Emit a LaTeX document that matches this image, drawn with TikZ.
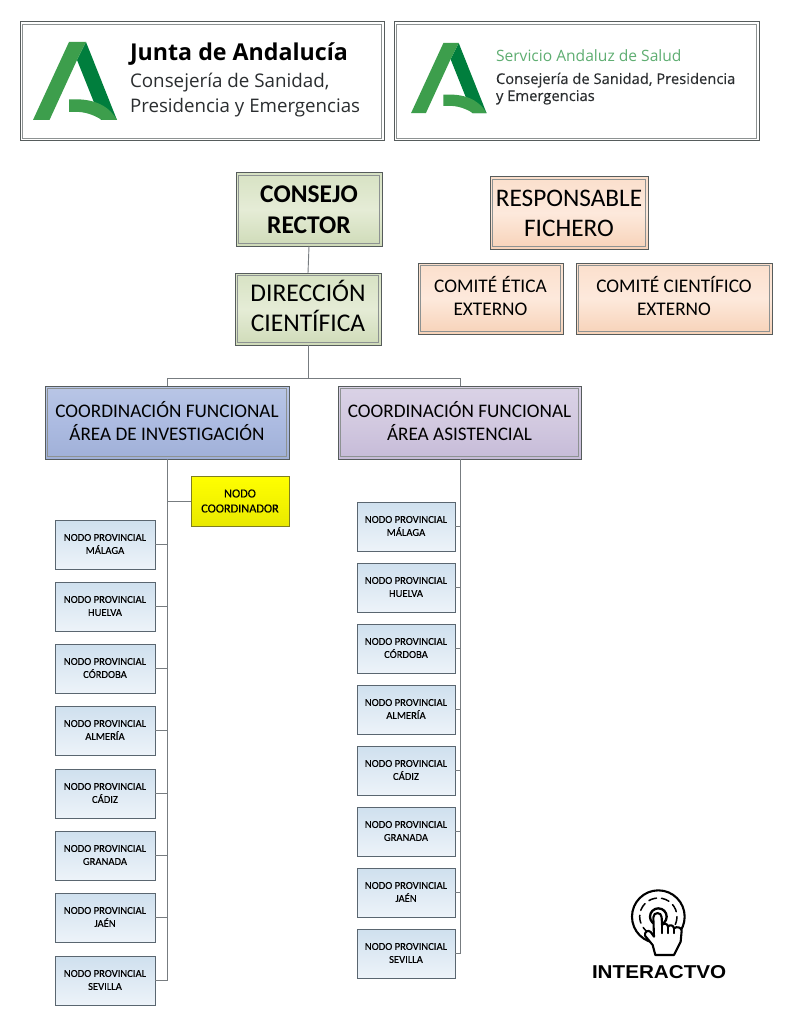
\documentclass[tikz,border=0pt]{standalone}
\usepackage{fontspec}
\usepackage{graphicx}
\setmainfont{Carlito}
\newfontfamily\smallfont[FakeBold=0.15]{Carlito}
\newfontfamily\logofont{Open Sans}
\newfontfamily\logosemi[FakeBold=0.2]{Open Sans}
\newfontfamily\iconfont{Liberation Sans}
\definecolor{agL}{HTML}{3D9E4C}
\definecolor{agD}{HTML}{007E3D}
\definecolor{lnk}{HTML}{777C80}
\definecolor{bdr}{HTML}{565C5C}
\definecolor{bdi}{HTML}{8D9292}
\definecolor{gT}{HTML}{D7E2C3}\definecolor{gM}{HTML}{E5ECD6}\definecolor{gB}{HTML}{CFDBB8}
\definecolor{oT}{HTML}{FBDFCC}\definecolor{oM}{HTML}{FDE9DC}\definecolor{oB}{HTML}{F7D2B8}
\definecolor{bT}{HTML}{B9C6E6}\definecolor{bM}{HTML}{ACBBE1}\definecolor{bB}{HTML}{A0B0D8}
\definecolor{pT}{HTML}{DAD2E6}\definecolor{pM}{HTML}{D2C9E0}\definecolor{pB}{HTML}{C6BBD8}
\definecolor{yT}{HTML}{FFFF00}\definecolor{yB}{HTML}{E9E900}\definecolor{yD}{HTML}{7F7F20}
\definecolor{nD}{HTML}{5A6670}\definecolor{nT}{HTML}{CFE0EE}\definecolor{nB}{HTML}{EDF3F9}
\definecolor{txtg}{HTML}{2B2E30}
\definecolor{sasg}{HTML}{5FAE72}
\newcommand{\fs}[2]{\fontsize{#1pt}{#2pt}\selectfont}
% box given by its pixel corners; the optional text offset is applied to a label node
\newcommand{\bx}[7]{%
  \pgfmathsetmacro{\cxx}{(#2+#4)/2}\pgfmathsetmacro{\cyy}{(#3+#5)/2}%
  \pgfmathsetmacro{\ww}{#4-#2}\pgfmathsetmacro{\hh}{#5-#3}%
  \node[#6,minimum width=\ww pt,minimum height=\hh pt] (#1) at (\cxx,\cyy) {};%
  \node[textonly,#6,draw=none,shade=false,fill=none,minimum width=0pt,minimum height=0pt] (#1t) at (\cxx,\cyy) {#7};}
\newcommand{\dbx}[7]{%
  \pgfmathsetmacro{\cxx}{(#2+#4)/2}\pgfmathsetmacro{\cyy}{(#3+#5)/2}%
  \pgfmathsetmacro{\ww}{#4-#2}\pgfmathsetmacro{\hh}{#5-#3}%
  \node[#6,minimum width=\ww pt,minimum height=\hh pt] (#1) at (\cxx,\cyy) {};%
  \draw[innerframe] ([shift={(2.2,2.2)}]#1.north west) rectangle ([shift={(-2.2,-2.2)}]#1.south east);%
  \node[textonly,txt/.try] (#1t) at (\cxx,\cyy) {#7};}
\newcommand{\logoA}{%
  \fill[agD] (44,18) -- (53,0) -- (84,78) -- (68,78) -- cycle;
  \fill[agL] (0,78) -- (16.5,78) -- (44,18) -- (53,0) -- (36,0) -- cycle;
  \fill[agL] (36,57.5) .. controls (58,56) and (75,62) .. (84,78) -- (69,78)
     .. controls (58,71) and (48,69) .. (36,70) -- cycle;}
\tikzset{
  x=1pt,y=-1pt,
  textonly/.style={inner sep=0pt,outer sep=0pt,align=center,text=black},
  frame/.style={draw=bdr,line width=1pt,inner sep=0pt,outer sep=0pt},
  innerframe/.style={draw=bdi,line width=0.8pt},
  logobox/.style={frame,fill=white},
  gbox/.style={frame,top color=gT,bottom color=gB,middle color=gM},
  obox/.style={frame,top color=oT,bottom color=oB,middle color=oM},
  bbox/.style={frame,top color=bT,bottom color=bB,middle color=bM},
  pbox/.style={frame,top color=pT,bottom color=pB,middle color=pM},
  ybox/.style={draw=yD,line width=0.9pt,top color=yT,bottom color=yB,inner sep=0pt,outer sep=0pt},
  nbox/.style={draw=nD,line width=0.9pt,top color=nT,bottom color=nB,inner sep=0pt,outer sep=0pt},
  conn/.style={draw=lnk,line width=0.9pt},
  lg/.style={inner sep=0pt,outer sep=0pt,anchor=base west,text=#1},
  lg/.default=black,
  tsmall/.style={textonly,font=\smallfont\fs{10.6}{13}},
  tyellow/.style={textonly,font=\smallfont\fs{12.3}{15}}
}
\newcommand{\smallbx}[7]{%
  \pgfmathsetmacro{\cxx}{(#2+#4)/2}\pgfmathsetmacro{\cyy}{(#3+#5)/2}%
  \pgfmathsetmacro{\ww}{#4-#2}\pgfmathsetmacro{\hh}{#5-#3}%
  \node[#6,minimum width=\ww pt,minimum height=\hh pt] (#1) at (\cxx,\cyy) {};%
  \node[#7] (#1t) at (\cxx,\cyy) {NODO PROVINCIAL\\\nodoname};}
\begin{document}
\begin{tikzpicture}
\useasboundingbox (0,0) rectangle (800,1024);
\fill[white] (0,0) rectangle (800,1024);
% logo panels
\dbx{logoa}{20}{22}{384}{141}{logobox}{}
\dbx{logob}{394}{22}{759}{141}{logobox}{}
\begin{scope}[shift={(33,42)}]\logoA\end{scope}
\begin{scope}[shift={(411,43)},scale=0.9]\logoA\end{scope}
\node[lg] (la1) at (130,61) {\logofont\bfseries\fs{23.2}{26}Junta de Andalucía};
\node[lg=txtg] (la2) at (130,88) {\logofont\fs{18.8}{22}Consejería de Sanidad,};
\node[lg=txtg] (la3) at (130,113) {\logofont\fs{18.7}{22}Presidencia y Emergencias};
\node[lg=sasg] (lb1) at (496,62) {\logofont\fs{15.6}{18}Servicio Andaluz de Salud};
\node[lg=txtg] (lb2) at (496,84) {\logosemi\fs{14.75}{18}Consejería de Sanidad, Presidencia};
\node[lg=txtg] (lb3) at (496,101) {\logosemi\fs{14.75}{18}y Emergencias};
% main boxes
\tikzset{txt/.style={font=\bfseries\fs{25.5}{31}}}
\dbx{consejo}{236}{173}{382}{246}{gbox}{CONSEJO\\RECTOR}
\tikzset{txt/.style={font=\fs{25.5}{30},yshift=3pt}}
\dbx{dir}{235}{273}{381}{345}{gbox}{DIRECCIÓN\\CIENTÍFICA}
\tikzset{txt/.style={font=\fs{25.3}{30}}}
\dbx{resp}{490}{177}{648}{249}{obox}{RESPONSABLE\\FICHERO}
\tikzset{txt/.style={font=\fs{19.3}{23},yshift=2pt}}
\dbx{etica}{418}{263}{563}{334}{obox}{COMITÉ ÉTICA\\EXTERNO}
\dbx{cient}{576}{263}{772}{334}{obox}{COMITÉ CIENTÍFICO\\EXTERNO}
\tikzset{txt/.style={font=\fs{19.2}{23},yshift=1pt}}
\dbx{cfa}{45}{386}{289}{459}{bbox}{COORDINACIÓN FUNCIONAL\\ÁREA DE INVESTIGACIÓN}
\dbx{cfb}{338}{386}{581}{459}{pbox}{COORDINACIÓN FUNCIONAL\\ÁREA ASISTENCIAL}
% yellow node
\node[ybox,minimum width=98pt,minimum height=50pt] (coord) at (240,501) {};
\node[tyellow] (coordt) at (240,501) {NODO\\COORDINADOR};
% left column
\foreach \n/\ya/\nm in {la/544.5/MÁLAGA,lb/606.5/HUELVA,lc/668.5/CÓRDOBA,ld/730.5/ALMERÍA,le/793.5/CÁDIZ,lf/855.5/GRANADA,lg8/917.5/JAÉN,lh/980.5/SEVILLA}{
  \node[nbox,minimum width=100pt,minimum height=49pt] (\n) at (105,\ya) {};
  \node[tsmall,yshift=0.5pt] (\n t) at (105,\ya) {NODO PROVINCIAL\\\nm};
}
% right column
\foreach \n/\ya/\nm in {ra/526.5/MÁLAGA,rb/587.5/HUELVA,rc/648.5/CÓRDOBA,rd/709.5/ALMERÍA,re/770.5/CÁDIZ,rf/831.5/GRANADA,rg/892.5/JAÉN,rh/953.5/SEVILLA}{
  \node[nbox,minimum width=98pt,minimum height=49pt] (\n) at (406,\ya) {};
  \node[tsmall,yshift=0.5pt] (\n t) at (406,\ya) {NODO PROVINCIAL\\\nm};
}
% connectors
\coordinate (bus) at (308,378);
\coordinate (tl) at (167,459);
\coordinate (tr) at (460,459);
\draw[conn] (consejo.south) -- (dir.north);
\draw[conn] (dir.south) -- (bus);
\draw[conn] (tl |- cfa.north) -- (tl |- bus) -- (tr |- bus) -- (tr |- cfb.north);
\draw[conn] (tl) -- (tl |- lh.east);
\draw[conn] (tr) -- (tr |- rh.east);
\draw[conn] (coord.west) -- (tl |- coord.west);
\foreach \n in {la,lb,lc,ld,le,lf,lg8,lh} \draw[conn] (\n.east) -- (tl |- \n.east);
\foreach \n in {ra,rb,rc,rd,re,rf,rg,rh} \draw[conn] (\n.east) -- (tr |- \n.east);
% interactive icon
\begin{scope}[shift={(580,880)},scale=0.3333,line cap=round,line join=round]
  \draw[black,line width=2.1pt] (235,110) circle (79);
  \draw[black,line width=1.5pt,dash pattern=on 8pt off 5pt] (235,110) circle (56);
  \draw[black,line width=2.3pt] (235,110) circle (25);
  \draw[black,fill=white,line width=2.1pt] (222,170) -- (220,112)
     .. controls (220,95) and (245,95) .. (245,112) -- (246,135)
     .. controls (252,128) and (262,130) .. (264,140)
     .. controls (270,133) and (280,135) .. (282,145)
     .. controls (290,138) and (304,142) .. (305,152)
     -- (302,185) -- (282,225) -- (226,225) -- (218,195) -- (195,167)
     .. controls (193,155) and (204,148) .. (212,156) -- cycle;
  \draw[black,line width=1.5pt] (246,135) -- (246,160) (264,140) -- (264,160) (282,145) -- (282,160);
\end{scope}
\node[lg] (ic) at (592,978.5) {\scalebox{1.11}[1]{\iconfont\bfseries\fs{18.6}{22}INTERACTVO}};
\end{tikzpicture}
\end{document}
